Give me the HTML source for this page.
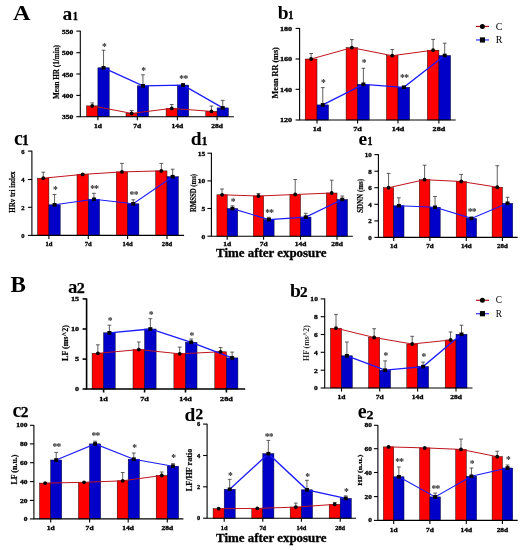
<!DOCTYPE html>
<html><head><meta charset="utf-8"><title>HRV figure</title>
<style>
html,body{margin:0;padding:0;background:#fff;}
svg{display:block;font-family:"Liberation Serif", "DejaVu Serif", serif;filter:blur(0.3px);}
</style></head><body>
<svg width="524" height="550" viewBox="0 0 524 550">
<rect width="524" height="550" fill="#fff"/>
<rect x="86.60" y="105.90" width="11.30" height="10.80" fill="#ff0000" stroke="#200" stroke-width="0.5"/>
<rect x="97.90" y="67.80" width="11.30" height="48.90" fill="#0000c8" stroke="#003" stroke-width="0.5"/>
<rect x="126.00" y="113.40" width="11.30" height="3.30" fill="#ff0000" stroke="#200" stroke-width="0.5"/>
<rect x="137.30" y="85.80" width="11.30" height="30.90" fill="#0000c8" stroke="#003" stroke-width="0.5"/>
<rect x="166.10" y="108.40" width="11.30" height="8.30" fill="#ff0000" stroke="#200" stroke-width="0.5"/>
<rect x="177.40" y="85.10" width="11.30" height="31.60" fill="#0000c8" stroke="#003" stroke-width="0.5"/>
<rect x="205.80" y="111.40" width="11.30" height="5.30" fill="#ff0000" stroke="#200" stroke-width="0.5"/>
<rect x="217.10" y="107.90" width="11.30" height="8.80" fill="#0000c8" stroke="#003" stroke-width="0.5"/>
<path d="M92.25 105.90V102.90M90.35 102.90H94.15" stroke="#383838" stroke-width="0.8" fill="none"/>
<path d="M103.55 67.80V50.20M101.65 50.20H105.45" stroke="#383838" stroke-width="0.8" fill="none"/>
<path d="M131.65 113.40V110.50M129.75 110.50H133.55" stroke="#383838" stroke-width="0.8" fill="none"/>
<path d="M142.95 85.80V74.80M141.05 74.80H144.85" stroke="#383838" stroke-width="0.8" fill="none"/>
<path d="M171.75 108.40V104.50M169.85 104.50H173.65" stroke="#383838" stroke-width="0.8" fill="none"/>
<path d="M183.05 85.10V83.60M181.15 83.60H184.95" stroke="#383838" stroke-width="0.8" fill="none"/>
<path d="M211.45 111.40V106.00M209.55 106.00H213.35" stroke="#383838" stroke-width="0.8" fill="none"/>
<path d="M222.75 107.90V100.40M220.85 100.40H224.65" stroke="#383838" stroke-width="0.8" fill="none"/>
<polyline points="92.25,105.90 131.65,113.40 171.75,108.40 211.45,111.40" fill="none" stroke="#c0141e" stroke-width="1.0"/>
<polyline points="103.55,67.80 142.95,85.80 183.05,85.10 222.75,107.90" fill="none" stroke="#1a1aff" stroke-width="1.3"/>
<circle cx="92.25" cy="105.90" r="1.9" fill="#000"/>
<rect x="101.55" y="66.00" width="4" height="3.6" fill="#000"/>
<circle cx="131.65" cy="113.40" r="1.9" fill="#000"/>
<rect x="140.95" y="84.00" width="4" height="3.6" fill="#000"/>
<circle cx="171.75" cy="108.40" r="1.9" fill="#000"/>
<rect x="181.05" y="83.30" width="4" height="3.6" fill="#000"/>
<circle cx="211.45" cy="111.40" r="1.9" fill="#000"/>
<rect x="220.75" y="106.10" width="4" height="3.6" fill="#000"/>
<path d="M80.30 30.70V116.70H233.90" stroke="#000" stroke-width="1.1" fill="none"/>
<path d="M76.30 31.10H80.30" stroke="#000" stroke-width="1.1"/>
<text transform="translate(73.30,33.81) scale(1.24,1)" font-size="6.10" text-anchor="end" font-weight="bold" fill="#000" stroke="#000" stroke-width="0.3">550</text>
<path d="M76.30 52.70H80.30" stroke="#000" stroke-width="1.1"/>
<text transform="translate(73.30,55.41) scale(1.24,1)" font-size="6.10" text-anchor="end" font-weight="bold" fill="#000" stroke="#000" stroke-width="0.3">500</text>
<path d="M76.30 74.00H80.30" stroke="#000" stroke-width="1.1"/>
<text transform="translate(73.30,76.71) scale(1.24,1)" font-size="6.10" text-anchor="end" font-weight="bold" fill="#000" stroke="#000" stroke-width="0.3">450</text>
<path d="M76.30 95.40H80.30" stroke="#000" stroke-width="1.1"/>
<text transform="translate(73.30,98.11) scale(1.24,1)" font-size="6.10" text-anchor="end" font-weight="bold" fill="#000" stroke="#000" stroke-width="0.3">400</text>
<path d="M76.30 116.70H80.30" stroke="#000" stroke-width="1.1"/>
<text transform="translate(73.30,119.41) scale(1.24,1)" font-size="6.10" text-anchor="end" font-weight="bold" fill="#000" stroke="#000" stroke-width="0.3">350</text>
<path d="M97.90 116.70V120.20" stroke="#000" stroke-width="1.1"/>
<text transform="translate(97.90,127.57) scale(1.24,1)" font-size="6.10" text-anchor="middle" font-weight="bold" fill="#000" stroke="#000" stroke-width="0.3">1d</text>
<text x="103.95" y="49.50" font-size="9.6" text-anchor="middle" font-weight="bold" fill="#2a2a2a" letter-spacing="-0.7">*</text>
<path d="M137.30 116.70V120.20" stroke="#000" stroke-width="1.1"/>
<text transform="translate(137.30,127.57) scale(1.24,1)" font-size="6.10" text-anchor="middle" font-weight="bold" fill="#000" stroke="#000" stroke-width="0.3">7d</text>
<text x="143.35" y="74.40" font-size="9.6" text-anchor="middle" font-weight="bold" fill="#2a2a2a" letter-spacing="-0.7">*</text>
<path d="M177.40 116.70V120.20" stroke="#000" stroke-width="1.1"/>
<text transform="translate(177.40,127.57) scale(1.24,1)" font-size="6.10" text-anchor="middle" font-weight="bold" fill="#000" stroke="#000" stroke-width="0.3">14d</text>
<text x="183.45" y="81.90" font-size="9.6" text-anchor="middle" font-weight="bold" fill="#2a2a2a" letter-spacing="-0.7">**</text>
<path d="M217.10 116.70V120.20" stroke="#000" stroke-width="1.1"/>
<text transform="translate(217.10,127.57) scale(1.24,1)" font-size="6.10" text-anchor="middle" font-weight="bold" fill="#000" stroke="#000" stroke-width="0.3">28d</text>
<text transform="translate(57.00,72.00) rotate(-90)" x="0" y="0" font-size="8.5" text-anchor="middle" font-weight="bold" textLength="54.0" lengthAdjust="spacingAndGlyphs" dy="2.29" fill="#000" stroke="#000" stroke-width="0.2">Mean HR (1/min)</text>
<rect x="305.20" y="59.00" width="11.80" height="61.00" fill="#ff0000" stroke="#200" stroke-width="0.5"/>
<rect x="317.00" y="104.90" width="11.50" height="15.10" fill="#0000c8" stroke="#003" stroke-width="0.5"/>
<rect x="346.10" y="47.70" width="11.50" height="72.30" fill="#ff0000" stroke="#200" stroke-width="0.5"/>
<rect x="357.60" y="84.30" width="11.60" height="35.70" fill="#0000c8" stroke="#003" stroke-width="0.5"/>
<rect x="386.50" y="55.70" width="11.50" height="64.30" fill="#ff0000" stroke="#200" stroke-width="0.5"/>
<rect x="398.00" y="87.30" width="11.60" height="32.70" fill="#0000c8" stroke="#003" stroke-width="0.5"/>
<rect x="427.40" y="50.20" width="11.50" height="69.80" fill="#ff0000" stroke="#200" stroke-width="0.5"/>
<rect x="438.90" y="55.50" width="11.60" height="64.50" fill="#0000c8" stroke="#003" stroke-width="0.5"/>
<path d="M311.10 59.00V53.50M309.20 53.50H313.00" stroke="#383838" stroke-width="0.8" fill="none"/>
<path d="M322.75 104.90V87.60M320.85 87.60H324.65" stroke="#383838" stroke-width="0.8" fill="none"/>
<path d="M351.85 47.70V39.60M349.95 39.60H353.75" stroke="#383838" stroke-width="0.8" fill="none"/>
<path d="M363.40 84.30V68.30M361.50 68.30H365.30" stroke="#383838" stroke-width="0.8" fill="none"/>
<path d="M392.25 55.70V49.50M390.35 49.50H394.15" stroke="#383838" stroke-width="0.8" fill="none"/>
<path d="M403.80 87.30V86.30M401.90 86.30H405.70" stroke="#383838" stroke-width="0.8" fill="none"/>
<path d="M433.15 50.20V39.40M431.25 39.40H435.05" stroke="#383838" stroke-width="0.8" fill="none"/>
<path d="M444.70 55.50V43.20M442.80 43.20H446.60" stroke="#383838" stroke-width="0.8" fill="none"/>
<polyline points="311.10,59.00 351.85,47.70 392.25,55.70 433.15,50.20" fill="none" stroke="#c0141e" stroke-width="1.0"/>
<polyline points="322.75,104.90 363.40,84.30 403.80,87.30 444.70,55.50" fill="none" stroke="#1a1aff" stroke-width="1.3"/>
<circle cx="311.10" cy="59.00" r="1.9" fill="#000"/>
<rect x="320.75" y="103.10" width="4" height="3.6" fill="#000"/>
<circle cx="351.85" cy="47.70" r="1.9" fill="#000"/>
<rect x="361.40" y="82.50" width="4" height="3.6" fill="#000"/>
<circle cx="392.25" cy="55.70" r="1.9" fill="#000"/>
<rect x="401.80" y="85.50" width="4" height="3.6" fill="#000"/>
<circle cx="433.15" cy="50.20" r="1.9" fill="#000"/>
<rect x="442.70" y="53.70" width="4" height="3.6" fill="#000"/>
<path d="M299.60 28.00V120.00H455.70" stroke="#000" stroke-width="1.1" fill="none"/>
<path d="M295.60 28.40H299.60" stroke="#000" stroke-width="1.1"/>
<text transform="translate(292.20,30.78) scale(1.36,1)" font-size="6.00" text-anchor="end" font-weight="bold" fill="#000" stroke="#000" stroke-width="0.3">180</text>
<path d="M295.60 59.00H299.60" stroke="#000" stroke-width="1.1"/>
<text transform="translate(292.20,61.38) scale(1.36,1)" font-size="6.00" text-anchor="end" font-weight="bold" fill="#000" stroke="#000" stroke-width="0.3">160</text>
<path d="M295.60 89.30H299.60" stroke="#000" stroke-width="1.1"/>
<text transform="translate(292.20,91.68) scale(1.36,1)" font-size="6.00" text-anchor="end" font-weight="bold" fill="#000" stroke="#000" stroke-width="0.3">140</text>
<path d="M295.60 120.00H299.60" stroke="#000" stroke-width="1.1"/>
<text transform="translate(292.20,122.38) scale(1.36,1)" font-size="6.00" text-anchor="end" font-weight="bold" fill="#000" stroke="#000" stroke-width="0.3">120</text>
<path d="M317.00 120.00V123.50" stroke="#000" stroke-width="1.1"/>
<text transform="translate(317.00,131.33) scale(1.36,1)" font-size="6.00" text-anchor="middle" font-weight="bold" fill="#000" stroke="#000" stroke-width="0.3">1d</text>
<text x="323.15" y="86.10" font-size="9.6" text-anchor="middle" font-weight="bold" fill="#2a2a2a" letter-spacing="-0.7">*</text>
<path d="M357.60 120.00V123.50" stroke="#000" stroke-width="1.1"/>
<text transform="translate(357.60,131.33) scale(1.36,1)" font-size="6.00" text-anchor="middle" font-weight="bold" fill="#000" stroke="#000" stroke-width="0.3">7d</text>
<text x="363.80" y="66.30" font-size="9.6" text-anchor="middle" font-weight="bold" fill="#2a2a2a" letter-spacing="-0.7">*</text>
<path d="M398.00 120.00V123.50" stroke="#000" stroke-width="1.1"/>
<text transform="translate(398.00,131.33) scale(1.36,1)" font-size="6.00" text-anchor="middle" font-weight="bold" fill="#000" stroke="#000" stroke-width="0.3">14d</text>
<text x="404.20" y="80.60" font-size="9.6" text-anchor="middle" font-weight="bold" fill="#2a2a2a" letter-spacing="-0.7">**</text>
<path d="M438.90 120.00V123.50" stroke="#000" stroke-width="1.1"/>
<text transform="translate(438.90,131.33) scale(1.36,1)" font-size="6.00" text-anchor="middle" font-weight="bold" fill="#000" stroke="#000" stroke-width="0.3">28d</text>
<text transform="translate(276.30,72.80) rotate(-90)" x="0" y="0" font-size="7.8" text-anchor="middle" font-weight="bold" textLength="51.2" lengthAdjust="spacingAndGlyphs" dy="2.11" fill="#000" stroke="#000" stroke-width="0.2">Mean RR  (ms)</text>
<rect x="37.60" y="178.20" width="11.30" height="57.20" fill="#ff0000" stroke="#200" stroke-width="0.5"/>
<rect x="48.90" y="204.80" width="11.30" height="30.60" fill="#0000c8" stroke="#003" stroke-width="0.5"/>
<rect x="77.00" y="174.40" width="11.30" height="61.00" fill="#ff0000" stroke="#200" stroke-width="0.5"/>
<rect x="88.30" y="199.30" width="11.30" height="36.10" fill="#0000c8" stroke="#003" stroke-width="0.5"/>
<rect x="116.30" y="171.90" width="11.30" height="63.50" fill="#ff0000" stroke="#200" stroke-width="0.5"/>
<rect x="127.60" y="203.80" width="11.30" height="31.60" fill="#0000c8" stroke="#003" stroke-width="0.5"/>
<rect x="155.70" y="170.90" width="11.30" height="64.50" fill="#ff0000" stroke="#200" stroke-width="0.5"/>
<rect x="167.00" y="176.70" width="11.30" height="58.70" fill="#0000c8" stroke="#003" stroke-width="0.5"/>
<path d="M43.25 178.20V172.20M41.35 172.20H45.15" stroke="#383838" stroke-width="0.8" fill="none"/>
<path d="M54.55 204.80V194.50M52.65 194.50H56.45" stroke="#383838" stroke-width="0.8" fill="none"/>
<path d="M82.65 174.40V173.60M80.75 173.60H84.55" stroke="#383838" stroke-width="0.8" fill="none"/>
<path d="M93.95 199.30V193.30M92.05 193.30H95.85" stroke="#383838" stroke-width="0.8" fill="none"/>
<path d="M121.95 171.90V163.40M120.05 163.40H123.85" stroke="#383838" stroke-width="0.8" fill="none"/>
<path d="M133.25 203.80V199.80M131.35 199.80H135.15" stroke="#383838" stroke-width="0.8" fill="none"/>
<path d="M161.35 170.90V163.40M159.45 163.40H163.25" stroke="#383838" stroke-width="0.8" fill="none"/>
<path d="M172.65 176.70V169.20M170.75 169.20H174.55" stroke="#383838" stroke-width="0.8" fill="none"/>
<polyline points="43.25,178.20 82.65,174.40 121.95,171.90 161.35,170.90" fill="none" stroke="#c0141e" stroke-width="1.0"/>
<polyline points="54.55,204.80 93.95,199.30 133.25,203.80 172.65,176.70" fill="none" stroke="#1a1aff" stroke-width="1.1"/>
<circle cx="43.25" cy="178.20" r="1.9" fill="#000"/>
<rect x="52.55" y="203.00" width="4" height="3.6" fill="#000"/>
<circle cx="82.65" cy="174.40" r="1.9" fill="#000"/>
<rect x="91.95" y="197.50" width="4" height="3.6" fill="#000"/>
<circle cx="121.95" cy="171.90" r="1.9" fill="#000"/>
<rect x="131.25" y="202.00" width="4" height="3.6" fill="#000"/>
<circle cx="161.35" cy="170.90" r="1.9" fill="#000"/>
<rect x="170.65" y="174.90" width="4" height="3.6" fill="#000"/>
<path d="M31.90 150.70V235.40H184.10" stroke="#000" stroke-width="1.1" fill="none"/>
<path d="M27.90 151.10H31.90" stroke="#000" stroke-width="1.1"/>
<text transform="translate(24.50,153.55) scale(1.02,1)" font-size="6.51" text-anchor="end" font-weight="bold" fill="#000" stroke="#000" stroke-width="0.3">6</text>
<path d="M27.90 179.50H31.90" stroke="#000" stroke-width="1.1"/>
<text transform="translate(24.50,181.95) scale(1.02,1)" font-size="6.51" text-anchor="end" font-weight="bold" fill="#000" stroke="#000" stroke-width="0.3">4</text>
<path d="M27.90 207.30H31.90" stroke="#000" stroke-width="1.1"/>
<text transform="translate(24.50,209.75) scale(1.02,1)" font-size="6.51" text-anchor="end" font-weight="bold" fill="#000" stroke="#000" stroke-width="0.3">2</text>
<path d="M27.90 235.40H31.90" stroke="#000" stroke-width="1.1"/>
<text transform="translate(24.50,237.85) scale(1.02,1)" font-size="6.51" text-anchor="end" font-weight="bold" fill="#000" stroke="#000" stroke-width="0.3">0</text>
<path d="M48.90 235.40V238.90" stroke="#000" stroke-width="1.1"/>
<text transform="translate(48.90,246.30) scale(1.02,1)" font-size="6.51" text-anchor="middle" font-weight="bold" fill="#000" stroke="#000" stroke-width="0.3">1d</text>
<text x="54.95" y="193.10" font-size="9.6" text-anchor="middle" font-weight="bold" fill="#2a2a2a" letter-spacing="-0.7">*</text>
<path d="M88.30 235.40V238.90" stroke="#000" stroke-width="1.1"/>
<text transform="translate(88.30,246.30) scale(1.02,1)" font-size="6.51" text-anchor="middle" font-weight="bold" fill="#000" stroke="#000" stroke-width="0.3">7d</text>
<text x="94.35" y="191.80" font-size="9.6" text-anchor="middle" font-weight="bold" fill="#2a2a2a" letter-spacing="-0.7">**</text>
<path d="M127.60 235.40V238.90" stroke="#000" stroke-width="1.1"/>
<text transform="translate(127.60,246.30) scale(1.02,1)" font-size="6.51" text-anchor="middle" font-weight="bold" fill="#000" stroke="#000" stroke-width="0.3">14d</text>
<text x="133.65" y="197.60" font-size="9.6" text-anchor="middle" font-weight="bold" fill="#2a2a2a" letter-spacing="-0.7">**</text>
<path d="M167.00 235.40V238.90" stroke="#000" stroke-width="1.1"/>
<text transform="translate(167.00,246.30) scale(1.02,1)" font-size="6.51" text-anchor="middle" font-weight="bold" fill="#000" stroke="#000" stroke-width="0.3">28d</text>
<text transform="translate(12.50,192.10) rotate(-90)" x="0" y="0" font-size="8.8" text-anchor="middle" font-weight="bold" textLength="41.4" lengthAdjust="spacingAndGlyphs" dy="2.38" fill="#000" stroke="#000" stroke-width="0.2">HRv tri index</text>
<rect x="216.90" y="194.80" width="10.30" height="41.40" fill="#ff0000" stroke="#200" stroke-width="0.5"/>
<rect x="227.20" y="208.60" width="10.50" height="27.60" fill="#0000c8" stroke="#003" stroke-width="0.5"/>
<rect x="253.30" y="196.00" width="10.30" height="40.20" fill="#ff0000" stroke="#200" stroke-width="0.5"/>
<rect x="263.60" y="219.60" width="10.50" height="16.60" fill="#0000c8" stroke="#003" stroke-width="0.5"/>
<rect x="289.90" y="194.50" width="10.60" height="41.70" fill="#ff0000" stroke="#200" stroke-width="0.5"/>
<rect x="300.50" y="217.10" width="10.50" height="19.10" fill="#0000c8" stroke="#003" stroke-width="0.5"/>
<rect x="326.40" y="193.00" width="10.60" height="43.20" fill="#ff0000" stroke="#200" stroke-width="0.5"/>
<rect x="337.00" y="199.50" width="10.50" height="36.70" fill="#0000c8" stroke="#003" stroke-width="0.5"/>
<path d="M222.05 194.80V189.00M220.15 189.00H223.95" stroke="#383838" stroke-width="0.8" fill="none"/>
<path d="M232.45 208.60V205.80M230.55 205.80H234.35" stroke="#383838" stroke-width="0.8" fill="none"/>
<path d="M258.45 196.00V193.50M256.55 193.50H260.35" stroke="#383838" stroke-width="0.8" fill="none"/>
<path d="M268.85 219.60V217.30M266.95 217.30H270.75" stroke="#383838" stroke-width="0.8" fill="none"/>
<path d="M295.20 194.50V179.50M293.30 179.50H297.10" stroke="#383838" stroke-width="0.8" fill="none"/>
<path d="M305.75 217.10V213.30M303.85 213.30H307.65" stroke="#383838" stroke-width="0.8" fill="none"/>
<path d="M331.70 193.00V180.20M329.80 180.20H333.60" stroke="#383838" stroke-width="0.8" fill="none"/>
<path d="M342.25 199.50V196.00M340.35 196.00H344.15" stroke="#383838" stroke-width="0.8" fill="none"/>
<polyline points="222.05,194.80 258.45,196.00 295.20,194.50 331.70,193.00" fill="none" stroke="#c0141e" stroke-width="1.0"/>
<polyline points="232.45,208.60 268.85,219.60 305.75,217.10 342.25,199.50" fill="none" stroke="#1a1aff" stroke-width="1.1"/>
<circle cx="222.05" cy="194.80" r="1.9" fill="#000"/>
<rect x="230.45" y="206.80" width="4" height="3.6" fill="#000"/>
<circle cx="258.45" cy="196.00" r="1.9" fill="#000"/>
<rect x="266.85" y="217.80" width="4" height="3.6" fill="#000"/>
<circle cx="295.20" cy="194.50" r="1.9" fill="#000"/>
<rect x="303.75" y="215.30" width="4" height="3.6" fill="#000"/>
<circle cx="331.70" cy="193.00" r="1.9" fill="#000"/>
<rect x="340.25" y="197.70" width="4" height="3.6" fill="#000"/>
<path d="M211.40 152.80V236.20H352.80" stroke="#000" stroke-width="1.1" fill="none"/>
<path d="M207.40 153.20H211.40" stroke="#000" stroke-width="1.1"/>
<text transform="translate(205.20,155.68) scale(1.14,1)" font-size="6.60" text-anchor="end" font-weight="bold" fill="#000" stroke="#000" stroke-width="0.3">15</text>
<path d="M207.40 180.90H211.40" stroke="#000" stroke-width="1.1"/>
<text transform="translate(205.20,183.38) scale(1.14,1)" font-size="6.60" text-anchor="end" font-weight="bold" fill="#000" stroke="#000" stroke-width="0.3">10</text>
<path d="M207.40 208.50H211.40" stroke="#000" stroke-width="1.1"/>
<text transform="translate(205.20,210.98) scale(1.14,1)" font-size="6.60" text-anchor="end" font-weight="bold" fill="#000" stroke="#000" stroke-width="0.3">5</text>
<path d="M207.40 236.20H211.40" stroke="#000" stroke-width="1.1"/>
<text transform="translate(205.20,238.68) scale(1.14,1)" font-size="6.60" text-anchor="end" font-weight="bold" fill="#000" stroke="#000" stroke-width="0.3">0</text>
<path d="M227.20 236.20V239.70" stroke="#000" stroke-width="1.1"/>
<text transform="translate(227.20,246.33) scale(1.14,1)" font-size="6.60" text-anchor="middle" font-weight="bold" fill="#000" stroke="#000" stroke-width="0.3">1d</text>
<text x="232.85" y="204.90" font-size="9.6" text-anchor="middle" font-weight="bold" fill="#2a2a2a" letter-spacing="-0.7">*</text>
<path d="M263.60 236.20V239.70" stroke="#000" stroke-width="1.1"/>
<text transform="translate(263.60,246.33) scale(1.14,1)" font-size="6.60" text-anchor="middle" font-weight="bold" fill="#000" stroke="#000" stroke-width="0.3">7d</text>
<text x="269.25" y="216.20" font-size="9.6" text-anchor="middle" font-weight="bold" fill="#2a2a2a" letter-spacing="-0.7">**</text>
<path d="M300.50 236.20V239.70" stroke="#000" stroke-width="1.1"/>
<text transform="translate(300.50,246.33) scale(1.14,1)" font-size="6.60" text-anchor="middle" font-weight="bold" fill="#000" stroke="#000" stroke-width="0.3">14d</text>
<path d="M337.00 236.20V239.70" stroke="#000" stroke-width="1.1"/>
<text transform="translate(337.00,246.33) scale(1.14,1)" font-size="6.60" text-anchor="middle" font-weight="bold" fill="#000" stroke="#000" stroke-width="0.3">28d</text>
<text transform="translate(193.80,193.00) rotate(-90)" x="0" y="0" font-size="8.0" text-anchor="middle" font-weight="bold" textLength="38.2" lengthAdjust="spacingAndGlyphs" dy="2.16" fill="#000" stroke="#000" stroke-width="0.2">RMSSD (ms)</text>
<rect x="383.40" y="187.70" width="10.30" height="49.70" fill="#ff0000" stroke="#200" stroke-width="0.5"/>
<rect x="393.70" y="205.80" width="10.30" height="31.60" fill="#0000c8" stroke="#003" stroke-width="0.5"/>
<rect x="419.30" y="179.70" width="10.60" height="57.70" fill="#ff0000" stroke="#200" stroke-width="0.5"/>
<rect x="429.90" y="207.30" width="10.30" height="30.10" fill="#0000c8" stroke="#003" stroke-width="0.5"/>
<rect x="456.20" y="181.50" width="10.10" height="55.90" fill="#ff0000" stroke="#200" stroke-width="0.5"/>
<rect x="466.30" y="218.40" width="10.30" height="19.00" fill="#0000c8" stroke="#003" stroke-width="0.5"/>
<rect x="492.10" y="187.20" width="10.30" height="50.20" fill="#ff0000" stroke="#200" stroke-width="0.5"/>
<rect x="502.40" y="203.30" width="10.30" height="34.10" fill="#0000c8" stroke="#003" stroke-width="0.5"/>
<path d="M388.55 187.70V173.40M386.65 173.40H390.45" stroke="#383838" stroke-width="0.8" fill="none"/>
<path d="M398.85 205.80V197.80M396.95 197.80H400.75" stroke="#383838" stroke-width="0.8" fill="none"/>
<path d="M424.60 179.70V165.20M422.70 165.20H426.50" stroke="#383838" stroke-width="0.8" fill="none"/>
<path d="M435.05 207.30V196.50M433.15 196.50H436.95" stroke="#383838" stroke-width="0.8" fill="none"/>
<path d="M461.25 181.50V174.40M459.35 174.40H463.15" stroke="#383838" stroke-width="0.8" fill="none"/>
<path d="M471.45 218.40V217.40M469.55 217.40H473.35" stroke="#383838" stroke-width="0.8" fill="none"/>
<path d="M497.25 187.20V165.70M495.35 165.70H499.15" stroke="#383838" stroke-width="0.8" fill="none"/>
<path d="M507.55 203.30V197.30M505.65 197.30H509.45" stroke="#383838" stroke-width="0.8" fill="none"/>
<polyline points="388.55,187.70 424.60,179.70 461.25,181.50 497.25,187.20" fill="none" stroke="#c0141e" stroke-width="1.0"/>
<polyline points="398.85,205.80 435.05,207.30 471.45,218.40 507.55,203.30" fill="none" stroke="#1a1aff" stroke-width="1.1"/>
<circle cx="388.55" cy="187.70" r="1.9" fill="#000"/>
<rect x="396.85" y="204.00" width="4" height="3.6" fill="#000"/>
<circle cx="424.60" cy="179.70" r="1.9" fill="#000"/>
<rect x="433.05" y="205.50" width="4" height="3.6" fill="#000"/>
<circle cx="461.25" cy="181.50" r="1.9" fill="#000"/>
<rect x="469.45" y="216.60" width="4" height="3.6" fill="#000"/>
<circle cx="497.25" cy="187.20" r="1.9" fill="#000"/>
<rect x="505.55" y="201.50" width="4" height="3.6" fill="#000"/>
<path d="M378.40 154.20V237.40H517.70" stroke="#000" stroke-width="1.1" fill="none"/>
<path d="M374.40 154.60H378.40" stroke="#000" stroke-width="1.1"/>
<text transform="translate(371.80,156.96) scale(1.12,1)" font-size="6.23" text-anchor="end" font-weight="bold" fill="#000" stroke="#000" stroke-width="0.3">10</text>
<path d="M374.40 171.20H378.40" stroke="#000" stroke-width="1.1"/>
<text transform="translate(371.80,173.56) scale(1.12,1)" font-size="6.23" text-anchor="end" font-weight="bold" fill="#000" stroke="#000" stroke-width="0.3">8</text>
<path d="M374.40 187.70H378.40" stroke="#000" stroke-width="1.1"/>
<text transform="translate(371.80,190.06) scale(1.12,1)" font-size="6.23" text-anchor="end" font-weight="bold" fill="#000" stroke="#000" stroke-width="0.3">6</text>
<path d="M374.40 204.30H378.40" stroke="#000" stroke-width="1.1"/>
<text transform="translate(371.80,206.66) scale(1.12,1)" font-size="6.23" text-anchor="end" font-weight="bold" fill="#000" stroke="#000" stroke-width="0.3">4</text>
<path d="M374.40 220.90H378.40" stroke="#000" stroke-width="1.1"/>
<text transform="translate(371.80,223.26) scale(1.12,1)" font-size="6.23" text-anchor="end" font-weight="bold" fill="#000" stroke="#000" stroke-width="0.3">2</text>
<path d="M374.40 237.40H378.40" stroke="#000" stroke-width="1.1"/>
<text transform="translate(371.80,239.76) scale(1.12,1)" font-size="6.23" text-anchor="end" font-weight="bold" fill="#000" stroke="#000" stroke-width="0.3">0</text>
<path d="M393.70 237.40V240.90" stroke="#000" stroke-width="1.1"/>
<text transform="translate(393.70,248.01) scale(1.12,1)" font-size="6.23" text-anchor="middle" font-weight="bold" fill="#000" stroke="#000" stroke-width="0.3">1d</text>
<path d="M429.90 237.40V240.90" stroke="#000" stroke-width="1.1"/>
<text transform="translate(429.90,248.01) scale(1.12,1)" font-size="6.23" text-anchor="middle" font-weight="bold" fill="#000" stroke="#000" stroke-width="0.3">7d</text>
<path d="M466.30 237.40V240.90" stroke="#000" stroke-width="1.1"/>
<text transform="translate(466.30,248.01) scale(1.12,1)" font-size="6.23" text-anchor="middle" font-weight="bold" fill="#000" stroke="#000" stroke-width="0.3">14d</text>
<text x="471.85" y="215.30" font-size="9.6" text-anchor="middle" font-weight="bold" fill="#2a2a2a" letter-spacing="-0.7">**</text>
<path d="M502.40 237.40V240.90" stroke="#000" stroke-width="1.1"/>
<text transform="translate(502.40,248.01) scale(1.12,1)" font-size="6.23" text-anchor="middle" font-weight="bold" fill="#000" stroke="#000" stroke-width="0.3">28d</text>
<text transform="translate(361.00,195.90) rotate(-90)" x="0" y="0" font-size="8.0" text-anchor="middle" font-weight="bold" textLength="33.8" lengthAdjust="spacingAndGlyphs" dy="2.16" fill="#000" stroke="#000" stroke-width="0.2">SDNN (ms)</text>
<rect x="92.10" y="353.30" width="11.50" height="35.70" fill="#ff0000" stroke="#200" stroke-width="0.5"/>
<rect x="103.60" y="332.80" width="11.60" height="56.20" fill="#0000c8" stroke="#003" stroke-width="0.5"/>
<rect x="133.00" y="349.60" width="11.60" height="39.40" fill="#ff0000" stroke="#200" stroke-width="0.5"/>
<rect x="144.60" y="329.00" width="11.50" height="60.00" fill="#0000c8" stroke="#003" stroke-width="0.5"/>
<rect x="173.90" y="353.80" width="11.60" height="35.20" fill="#ff0000" stroke="#200" stroke-width="0.5"/>
<rect x="185.50" y="342.30" width="11.50" height="46.70" fill="#0000c8" stroke="#003" stroke-width="0.5"/>
<rect x="214.80" y="351.80" width="11.60" height="37.20" fill="#ff0000" stroke="#200" stroke-width="0.5"/>
<rect x="226.40" y="357.90" width="11.50" height="31.10" fill="#0000c8" stroke="#003" stroke-width="0.5"/>
<path d="M97.85 353.30V344.80M95.95 344.80H99.75" stroke="#383838" stroke-width="0.8" fill="none"/>
<path d="M109.40 332.80V325.20M107.50 325.20H111.30" stroke="#383838" stroke-width="0.8" fill="none"/>
<path d="M138.80 349.60V342.00M136.90 342.00H140.70" stroke="#383838" stroke-width="0.8" fill="none"/>
<path d="M150.35 329.00V318.70M148.45 318.70H152.25" stroke="#383838" stroke-width="0.8" fill="none"/>
<path d="M179.70 353.80V347.10M177.80 347.10H181.60" stroke="#383838" stroke-width="0.8" fill="none"/>
<path d="M191.25 342.30V339.00M189.35 339.00H193.15" stroke="#383838" stroke-width="0.8" fill="none"/>
<path d="M220.60 351.80V347.60M218.70 347.60H222.50" stroke="#383838" stroke-width="0.8" fill="none"/>
<path d="M232.15 357.90V352.10M230.25 352.10H234.05" stroke="#383838" stroke-width="0.8" fill="none"/>
<polyline points="97.85,353.30 138.80,349.60 179.70,353.80 220.60,351.80" fill="none" stroke="#c0141e" stroke-width="1.0"/>
<polyline points="109.40,332.80 150.35,329.00 191.25,342.30 232.15,357.90" fill="none" stroke="#1a1aff" stroke-width="1.3"/>
<circle cx="97.85" cy="353.30" r="1.9" fill="#000"/>
<rect x="107.40" y="331.00" width="4" height="3.6" fill="#000"/>
<circle cx="138.80" cy="349.60" r="1.9" fill="#000"/>
<rect x="148.35" y="327.20" width="4" height="3.6" fill="#000"/>
<circle cx="179.70" cy="353.80" r="1.9" fill="#000"/>
<rect x="189.25" y="340.50" width="4" height="3.6" fill="#000"/>
<circle cx="220.60" cy="351.80" r="1.9" fill="#000"/>
<rect x="230.15" y="356.10" width="4" height="3.6" fill="#000"/>
<path d="M86.60 298.50V389.00H245.20" stroke="#000" stroke-width="1.6" fill="none"/>
<path d="M82.60 298.90H86.60" stroke="#000" stroke-width="1.6"/>
<text transform="translate(79.20,301.18) scale(1.3,1)" font-size="6.30" text-anchor="end" font-weight="bold" fill="#000" stroke="#000" stroke-width="0.3">15</text>
<path d="M82.60 329.00H86.60" stroke="#000" stroke-width="1.6"/>
<text transform="translate(79.20,331.28) scale(1.3,1)" font-size="6.30" text-anchor="end" font-weight="bold" fill="#000" stroke="#000" stroke-width="0.3">10</text>
<path d="M82.60 359.10H86.60" stroke="#000" stroke-width="1.6"/>
<text transform="translate(79.20,361.38) scale(1.3,1)" font-size="6.30" text-anchor="end" font-weight="bold" fill="#000" stroke="#000" stroke-width="0.3">5</text>
<path d="M82.60 389.00H86.60" stroke="#000" stroke-width="1.6"/>
<text transform="translate(79.20,391.28) scale(1.3,1)" font-size="6.30" text-anchor="end" font-weight="bold" fill="#000" stroke="#000" stroke-width="0.3">0</text>
<path d="M103.60 389.00V392.50" stroke="#000" stroke-width="1.6"/>
<text transform="translate(103.60,401.03) scale(1.3,1)" font-size="6.30" text-anchor="middle" font-weight="bold" fill="#000" stroke="#000" stroke-width="0.3">1d</text>
<text x="109.80" y="324.10" font-size="9.6" text-anchor="middle" font-weight="bold" fill="#2a2a2a" letter-spacing="-0.7">*</text>
<path d="M144.60 389.00V392.50" stroke="#000" stroke-width="1.6"/>
<text transform="translate(144.60,401.03) scale(1.3,1)" font-size="6.30" text-anchor="middle" font-weight="bold" fill="#000" stroke="#000" stroke-width="0.3">7d</text>
<text x="150.75" y="318.00" font-size="9.6" text-anchor="middle" font-weight="bold" fill="#2a2a2a" letter-spacing="-0.7">*</text>
<path d="M185.50 389.00V392.50" stroke="#000" stroke-width="1.6"/>
<text transform="translate(185.50,401.03) scale(1.3,1)" font-size="6.30" text-anchor="middle" font-weight="bold" fill="#000" stroke="#000" stroke-width="0.3">14d</text>
<text x="191.65" y="338.60" font-size="9.6" text-anchor="middle" font-weight="bold" fill="#2a2a2a" letter-spacing="-0.7">*</text>
<path d="M226.40 389.00V392.50" stroke="#000" stroke-width="1.6"/>
<text transform="translate(226.40,401.03) scale(1.3,1)" font-size="6.30" text-anchor="middle" font-weight="bold" fill="#000" stroke="#000" stroke-width="0.3">28d</text>
<text transform="translate(66.00,343.05) rotate(-90)" x="0" y="0" font-size="8.7" text-anchor="middle" font-weight="bold" textLength="35.7" lengthAdjust="spacingAndGlyphs" dy="2.35" fill="#000" stroke="#000" stroke-width="0.2">LF (ms^2)</text>
<rect x="330.50" y="328.20" width="11.00" height="59.80" fill="#ff0000" stroke="#200" stroke-width="0.5"/>
<rect x="341.50" y="355.80" width="10.80" height="32.20" fill="#0000c8" stroke="#003" stroke-width="0.5"/>
<rect x="368.60" y="337.50" width="11.10" height="50.50" fill="#ff0000" stroke="#200" stroke-width="0.5"/>
<rect x="379.70" y="370.20" width="10.80" height="17.80" fill="#0000c8" stroke="#003" stroke-width="0.5"/>
<rect x="406.80" y="344.00" width="10.80" height="44.00" fill="#ff0000" stroke="#200" stroke-width="0.5"/>
<rect x="417.60" y="366.60" width="11.00" height="21.40" fill="#0000c8" stroke="#003" stroke-width="0.5"/>
<rect x="445.20" y="340.00" width="10.80" height="48.00" fill="#ff0000" stroke="#200" stroke-width="0.5"/>
<rect x="456.00" y="334.30" width="11.00" height="53.70" fill="#0000c8" stroke="#003" stroke-width="0.5"/>
<path d="M336.00 328.20V314.40M334.10 314.40H337.90" stroke="#383838" stroke-width="0.8" fill="none"/>
<path d="M346.90 355.80V342.00M345.00 342.00H348.80" stroke="#383838" stroke-width="0.8" fill="none"/>
<path d="M374.15 337.50V328.70M372.25 328.70H376.05" stroke="#383838" stroke-width="0.8" fill="none"/>
<path d="M385.10 370.20V360.90M383.20 360.90H387.00" stroke="#383838" stroke-width="0.8" fill="none"/>
<path d="M412.20 344.00V336.30M410.30 336.30H414.10" stroke="#383838" stroke-width="0.8" fill="none"/>
<path d="M423.10 366.60V362.10M421.20 362.10H425.00" stroke="#383838" stroke-width="0.8" fill="none"/>
<path d="M450.60 340.00V332.00M448.70 332.00H452.50" stroke="#383838" stroke-width="0.8" fill="none"/>
<path d="M461.50 334.30V325.20M459.60 325.20H463.40" stroke="#383838" stroke-width="0.8" fill="none"/>
<polyline points="336.00,328.20 374.15,337.50 412.20,344.00 450.60,340.00" fill="none" stroke="#c0141e" stroke-width="1.0"/>
<polyline points="346.90,355.80 385.10,370.20 423.10,366.60 461.50,334.30" fill="none" stroke="#1a1aff" stroke-width="1.3"/>
<circle cx="336.00" cy="328.20" r="1.9" fill="#000"/>
<rect x="344.90" y="354.00" width="4" height="3.6" fill="#000"/>
<circle cx="374.15" cy="337.50" r="1.9" fill="#000"/>
<rect x="383.10" y="368.40" width="4" height="3.6" fill="#000"/>
<circle cx="412.20" cy="344.00" r="1.9" fill="#000"/>
<rect x="421.10" y="364.80" width="4" height="3.6" fill="#000"/>
<circle cx="450.60" cy="340.00" r="1.9" fill="#000"/>
<rect x="459.50" y="332.50" width="4" height="3.6" fill="#000"/>
<path d="M324.70 298.50V388.00H472.50" stroke="#000" stroke-width="1.1" fill="none"/>
<path d="M320.70 298.90H324.70" stroke="#000" stroke-width="1.1"/>
<text transform="translate(317.90,301.35) scale(1.16,1)" font-size="6.51" text-anchor="end" font-weight="bold" fill="#000" stroke="#000" stroke-width="0.3">10</text>
<path d="M320.70 316.70H324.70" stroke="#000" stroke-width="1.1"/>
<text transform="translate(317.90,319.15) scale(1.16,1)" font-size="6.51" text-anchor="end" font-weight="bold" fill="#000" stroke="#000" stroke-width="0.3">8</text>
<path d="M320.70 334.50H324.70" stroke="#000" stroke-width="1.1"/>
<text transform="translate(317.90,336.95) scale(1.16,1)" font-size="6.51" text-anchor="end" font-weight="bold" fill="#000" stroke="#000" stroke-width="0.3">6</text>
<path d="M320.70 352.30H324.70" stroke="#000" stroke-width="1.1"/>
<text transform="translate(317.90,354.75) scale(1.16,1)" font-size="6.51" text-anchor="end" font-weight="bold" fill="#000" stroke="#000" stroke-width="0.3">4</text>
<path d="M320.70 370.20H324.70" stroke="#000" stroke-width="1.1"/>
<text transform="translate(317.90,372.65) scale(1.16,1)" font-size="6.51" text-anchor="end" font-weight="bold" fill="#000" stroke="#000" stroke-width="0.3">2</text>
<path d="M320.70 388.00H324.70" stroke="#000" stroke-width="1.1"/>
<text transform="translate(317.90,390.45) scale(1.16,1)" font-size="6.51" text-anchor="end" font-weight="bold" fill="#000" stroke="#000" stroke-width="0.3">0</text>
<path d="M341.50 388.00V391.50" stroke="#000" stroke-width="1.1"/>
<text transform="translate(341.50,399.10) scale(1.16,1)" font-size="6.51" text-anchor="middle" font-weight="bold" fill="#000" stroke="#000" stroke-width="0.3">1d</text>
<path d="M379.70 388.00V391.50" stroke="#000" stroke-width="1.1"/>
<text transform="translate(379.70,399.10) scale(1.16,1)" font-size="6.51" text-anchor="middle" font-weight="bold" fill="#000" stroke="#000" stroke-width="0.3">7d</text>
<text x="385.50" y="359.40" font-size="9.6" text-anchor="middle" font-weight="bold" fill="#2a2a2a" letter-spacing="-0.7">*</text>
<path d="M417.60 388.00V391.50" stroke="#000" stroke-width="1.1"/>
<text transform="translate(417.60,399.10) scale(1.16,1)" font-size="6.51" text-anchor="middle" font-weight="bold" fill="#000" stroke="#000" stroke-width="0.3">14d</text>
<text x="423.50" y="360.40" font-size="9.6" text-anchor="middle" font-weight="bold" fill="#2a2a2a" letter-spacing="-0.7">*</text>
<path d="M456.00 388.00V391.50" stroke="#000" stroke-width="1.1"/>
<text transform="translate(456.00,399.10) scale(1.16,1)" font-size="6.51" text-anchor="middle" font-weight="bold" fill="#000" stroke="#000" stroke-width="0.3">28d</text>
<text transform="translate(307.20,343.05) rotate(-90)" x="0" y="0" font-size="7.7" text-anchor="middle" font-weight="bold" textLength="35.7" lengthAdjust="spacingAndGlyphs" dy="2.08" fill="#333" stroke="#000" stroke-width="0">HF (ms^2)</text>
<rect x="39.60" y="483.10" width="11.10" height="35.80" fill="#ff0000" stroke="#200" stroke-width="0.5"/>
<rect x="50.70" y="460.00" width="11.00" height="58.90" fill="#0000c8" stroke="#003" stroke-width="0.5"/>
<rect x="78.50" y="482.30" width="11.10" height="36.60" fill="#ff0000" stroke="#200" stroke-width="0.5"/>
<rect x="89.60" y="443.90" width="11.00" height="75.00" fill="#0000c8" stroke="#003" stroke-width="0.5"/>
<rect x="117.20" y="480.80" width="11.00" height="38.10" fill="#ff0000" stroke="#200" stroke-width="0.5"/>
<rect x="128.20" y="459.20" width="11.20" height="59.70" fill="#0000c8" stroke="#003" stroke-width="0.5"/>
<rect x="156.20" y="475.50" width="11.10" height="43.40" fill="#ff0000" stroke="#200" stroke-width="0.5"/>
<rect x="167.30" y="466.20" width="11.30" height="52.70" fill="#0000c8" stroke="#003" stroke-width="0.5"/>
<path d="M56.20 460.00V452.40M54.30 452.40H58.10" stroke="#383838" stroke-width="0.8" fill="none"/>
<path d="M95.10 443.90V441.20M93.20 441.20H97.00" stroke="#383838" stroke-width="0.8" fill="none"/>
<path d="M122.70 480.80V472.50M120.80 472.50H124.60" stroke="#383838" stroke-width="0.8" fill="none"/>
<path d="M133.80 459.20V453.00M131.90 453.00H135.70" stroke="#383838" stroke-width="0.8" fill="none"/>
<path d="M161.75 475.50V472.00M159.85 472.00H163.65" stroke="#383838" stroke-width="0.8" fill="none"/>
<path d="M172.95 466.20V463.70M171.05 463.70H174.85" stroke="#383838" stroke-width="0.8" fill="none"/>
<polyline points="45.15,483.10 84.05,482.30 122.70,480.80 161.75,475.50" fill="none" stroke="#c0141e" stroke-width="1.0"/>
<polyline points="56.20,460.00 95.10,443.90 133.80,459.20 172.95,466.20" fill="none" stroke="#1a1aff" stroke-width="1.1"/>
<circle cx="45.15" cy="483.10" r="1.9" fill="#000"/>
<rect x="54.20" y="458.20" width="4" height="3.6" fill="#000"/>
<circle cx="84.05" cy="482.30" r="1.9" fill="#000"/>
<rect x="93.10" y="442.10" width="4" height="3.6" fill="#000"/>
<circle cx="122.70" cy="480.80" r="1.9" fill="#000"/>
<rect x="131.80" y="457.40" width="4" height="3.6" fill="#000"/>
<circle cx="161.75" cy="475.50" r="1.9" fill="#000"/>
<rect x="170.95" y="464.40" width="4" height="3.6" fill="#000"/>
<path d="M33.90 424.90V518.90H183.40" stroke="#000" stroke-width="1.1" fill="none"/>
<path d="M29.90 425.30H33.90" stroke="#000" stroke-width="1.1"/>
<text transform="translate(27.50,427.45) scale(1.28,1)" font-size="5.90" text-anchor="end" font-weight="bold" fill="#000" stroke="#000" stroke-width="0.3">100</text>
<path d="M29.90 443.90H33.90" stroke="#000" stroke-width="1.1"/>
<text transform="translate(27.50,446.05) scale(1.28,1)" font-size="5.90" text-anchor="end" font-weight="bold" fill="#000" stroke="#000" stroke-width="0.3">80</text>
<path d="M29.90 462.70H33.90" stroke="#000" stroke-width="1.1"/>
<text transform="translate(27.50,464.85) scale(1.28,1)" font-size="5.90" text-anchor="end" font-weight="bold" fill="#000" stroke="#000" stroke-width="0.3">60</text>
<path d="M29.90 481.60H33.90" stroke="#000" stroke-width="1.1"/>
<text transform="translate(27.50,483.75) scale(1.28,1)" font-size="5.90" text-anchor="end" font-weight="bold" fill="#000" stroke="#000" stroke-width="0.3">40</text>
<path d="M29.90 500.40H33.90" stroke="#000" stroke-width="1.1"/>
<text transform="translate(27.50,502.55) scale(1.28,1)" font-size="5.90" text-anchor="end" font-weight="bold" fill="#000" stroke="#000" stroke-width="0.3">20</text>
<path d="M29.90 518.90H33.90" stroke="#000" stroke-width="1.1"/>
<text transform="translate(27.50,521.05) scale(1.28,1)" font-size="5.90" text-anchor="end" font-weight="bold" fill="#000" stroke="#000" stroke-width="0.3">0</text>
<path d="M50.70 518.90V522.40" stroke="#000" stroke-width="1.1"/>
<text transform="translate(50.70,530.10) scale(1.28,1)" font-size="5.90" text-anchor="middle" font-weight="bold" fill="#000" stroke="#000" stroke-width="0.3">1d</text>
<text x="56.60" y="450.30" font-size="9.6" text-anchor="middle" font-weight="bold" fill="#2a2a2a" letter-spacing="-0.7">**</text>
<path d="M89.60 518.90V522.40" stroke="#000" stroke-width="1.1"/>
<text transform="translate(89.60,530.10) scale(1.28,1)" font-size="5.90" text-anchor="middle" font-weight="bold" fill="#000" stroke="#000" stroke-width="0.3">7d</text>
<text x="95.50" y="438.50" font-size="9.6" text-anchor="middle" font-weight="bold" fill="#2a2a2a" letter-spacing="-0.7">**</text>
<path d="M128.20 518.90V522.40" stroke="#000" stroke-width="1.1"/>
<text transform="translate(128.20,530.10) scale(1.28,1)" font-size="5.90" text-anchor="middle" font-weight="bold" fill="#000" stroke="#000" stroke-width="0.3">14d</text>
<text x="134.20" y="451.00" font-size="9.6" text-anchor="middle" font-weight="bold" fill="#2a2a2a" letter-spacing="-0.7">*</text>
<path d="M167.30 518.90V522.40" stroke="#000" stroke-width="1.1"/>
<text transform="translate(167.30,530.10) scale(1.28,1)" font-size="5.90" text-anchor="middle" font-weight="bold" fill="#000" stroke="#000" stroke-width="0.3">28d</text>
<text x="173.35" y="460.80" font-size="9.6" text-anchor="middle" font-weight="bold" fill="#2a2a2a" letter-spacing="-0.7">*</text>
<text transform="translate(15.40,469.55) rotate(-90)" x="0" y="0" font-size="7.4" text-anchor="middle" font-weight="bold" textLength="30.1" lengthAdjust="spacingAndGlyphs" dy="2.00" fill="#000" stroke="#000" stroke-width="0.2">LF (n.u.)</text>
<rect x="213.10" y="508.70" width="11.10" height="9.50" fill="#ff0000" stroke="#200" stroke-width="0.5"/>
<rect x="224.20" y="489.30" width="11.00" height="28.90" fill="#0000c8" stroke="#003" stroke-width="0.5"/>
<rect x="251.80" y="508.40" width="11.00" height="9.80" fill="#ff0000" stroke="#200" stroke-width="0.5"/>
<rect x="262.80" y="453.70" width="11.10" height="64.50" fill="#0000c8" stroke="#003" stroke-width="0.5"/>
<rect x="290.20" y="507.10" width="11.20" height="11.10" fill="#ff0000" stroke="#200" stroke-width="0.5"/>
<rect x="301.40" y="489.80" width="11.10" height="28.40" fill="#0000c8" stroke="#003" stroke-width="0.5"/>
<rect x="329.20" y="504.40" width="11.00" height="13.80" fill="#ff0000" stroke="#200" stroke-width="0.5"/>
<rect x="340.20" y="498.40" width="11.10" height="19.80" fill="#0000c8" stroke="#003" stroke-width="0.5"/>
<path d="M229.70 489.30V479.30M227.80 479.30H231.60" stroke="#383838" stroke-width="0.8" fill="none"/>
<path d="M268.35 453.70V440.40M266.45 440.40H270.25" stroke="#383838" stroke-width="0.8" fill="none"/>
<path d="M295.80 507.10V503.10M293.90 503.10H297.70" stroke="#383838" stroke-width="0.8" fill="none"/>
<path d="M306.95 489.80V480.30M305.05 480.30H308.85" stroke="#383838" stroke-width="0.8" fill="none"/>
<path d="M334.70 504.40V502.50M332.80 502.50H336.60" stroke="#383838" stroke-width="0.8" fill="none"/>
<path d="M345.75 498.40V495.90M343.85 495.90H347.65" stroke="#383838" stroke-width="0.8" fill="none"/>
<polyline points="218.65,508.70 257.30,508.40 295.80,507.10 334.70,504.40" fill="none" stroke="#c0141e" stroke-width="1.0"/>
<polyline points="229.70,489.30 268.35,453.70 306.95,489.80 345.75,498.40" fill="none" stroke="#1a1aff" stroke-width="1.3"/>
<circle cx="218.65" cy="508.70" r="1.9" fill="#000"/>
<rect x="227.70" y="487.50" width="4" height="3.6" fill="#000"/>
<circle cx="257.30" cy="508.40" r="1.9" fill="#000"/>
<rect x="266.35" y="451.90" width="4" height="3.6" fill="#000"/>
<circle cx="295.80" cy="507.10" r="1.9" fill="#000"/>
<rect x="304.95" y="488.00" width="4" height="3.6" fill="#000"/>
<circle cx="334.70" cy="504.40" r="1.9" fill="#000"/>
<rect x="343.75" y="496.60" width="4" height="3.6" fill="#000"/>
<path d="M207.10 423.70V518.20H356.00" stroke="#000" stroke-width="1.1" fill="none"/>
<path d="M203.10 424.10H207.10" stroke="#000" stroke-width="1.1"/>
<text x="200.20" y="426.32" font-size="6.42" text-anchor="end" font-weight="bold" fill="#000" stroke="#000" stroke-width="0.3">6</text>
<path d="M203.10 455.50H207.10" stroke="#000" stroke-width="1.1"/>
<text x="200.20" y="457.72" font-size="6.42" text-anchor="end" font-weight="bold" fill="#000" stroke="#000" stroke-width="0.3">4</text>
<path d="M203.10 486.80H207.10" stroke="#000" stroke-width="1.1"/>
<text x="200.20" y="489.02" font-size="6.42" text-anchor="end" font-weight="bold" fill="#000" stroke="#000" stroke-width="0.3">2</text>
<path d="M203.10 518.20H207.10" stroke="#000" stroke-width="1.1"/>
<text x="200.20" y="520.42" font-size="6.42" text-anchor="end" font-weight="bold" fill="#000" stroke="#000" stroke-width="0.3">0</text>
<path d="M224.20 518.20V521.70" stroke="#000" stroke-width="1.1"/>
<text x="224.20" y="530.27" font-size="6.42" text-anchor="middle" font-weight="bold" fill="#000" stroke="#000" stroke-width="0.3">1d</text>
<text x="230.10" y="479.10" font-size="9.6" text-anchor="middle" font-weight="bold" fill="#2a2a2a" letter-spacing="-0.7">*</text>
<path d="M262.80 518.20V521.70" stroke="#000" stroke-width="1.1"/>
<text x="262.80" y="530.27" font-size="6.42" text-anchor="middle" font-weight="bold" fill="#000" stroke="#000" stroke-width="0.3">7d</text>
<text x="268.75" y="439.50" font-size="9.6" text-anchor="middle" font-weight="bold" fill="#2a2a2a" letter-spacing="-0.7">**</text>
<path d="M301.40 518.20V521.70" stroke="#000" stroke-width="1.1"/>
<text x="301.40" y="530.27" font-size="6.42" text-anchor="middle" font-weight="bold" fill="#000" stroke="#000" stroke-width="0.3">14d</text>
<text x="307.35" y="479.60" font-size="9.6" text-anchor="middle" font-weight="bold" fill="#2a2a2a" letter-spacing="-0.7">*</text>
<path d="M340.20 518.20V521.70" stroke="#000" stroke-width="1.1"/>
<text x="340.20" y="530.27" font-size="6.42" text-anchor="middle" font-weight="bold" fill="#000" stroke="#000" stroke-width="0.3">28d</text>
<text x="346.15" y="494.90" font-size="9.6" text-anchor="middle" font-weight="bold" fill="#2a2a2a" letter-spacing="-0.7">*</text>
<text transform="translate(189.50,470.00) rotate(-90)" x="0" y="0" font-size="8.3" text-anchor="middle" font-weight="bold" textLength="42.6" lengthAdjust="spacingAndGlyphs" dy="2.24" fill="#000" stroke="#000" stroke-width="0.2">LF/HF ratio</text>
<rect x="383.40" y="446.90" width="10.30" height="73.50" fill="#ff0000" stroke="#200" stroke-width="0.5"/>
<rect x="393.70" y="476.80" width="10.30" height="43.60" fill="#0000c8" stroke="#003" stroke-width="0.5"/>
<rect x="419.60" y="447.90" width="10.30" height="72.50" fill="#ff0000" stroke="#200" stroke-width="0.5"/>
<rect x="429.90" y="496.90" width="10.50" height="23.50" fill="#0000c8" stroke="#003" stroke-width="0.5"/>
<rect x="455.70" y="449.40" width="10.60" height="71.00" fill="#ff0000" stroke="#200" stroke-width="0.5"/>
<rect x="466.30" y="476.30" width="10.30" height="44.10" fill="#0000c8" stroke="#003" stroke-width="0.5"/>
<rect x="492.10" y="456.70" width="10.30" height="63.70" fill="#ff0000" stroke="#200" stroke-width="0.5"/>
<rect x="502.40" y="468.00" width="10.30" height="52.40" fill="#0000c8" stroke="#003" stroke-width="0.5"/>
<path d="M398.85 476.80V467.00M396.95 467.00H400.75" stroke="#383838" stroke-width="0.8" fill="none"/>
<path d="M435.15 496.90V493.10M433.25 493.10H437.05" stroke="#383838" stroke-width="0.8" fill="none"/>
<path d="M461.00 449.40V439.10M459.10 439.10H462.90" stroke="#383838" stroke-width="0.8" fill="none"/>
<path d="M471.45 476.30V468.00M469.55 468.00H473.35" stroke="#383838" stroke-width="0.8" fill="none"/>
<path d="M497.25 456.70V451.20M495.35 451.20H499.15" stroke="#383838" stroke-width="0.8" fill="none"/>
<path d="M507.55 468.00V465.00M505.65 465.00H509.45" stroke="#383838" stroke-width="0.8" fill="none"/>
<polyline points="388.55,446.90 424.75,447.90 461.00,449.40 497.25,456.70" fill="none" stroke="#c0141e" stroke-width="1.0"/>
<polyline points="398.85,476.80 435.15,496.90 471.45,476.30 507.55,468.00" fill="none" stroke="#1a1aff" stroke-width="1.1"/>
<circle cx="388.55" cy="446.90" r="1.9" fill="#000"/>
<rect x="396.85" y="475.00" width="4" height="3.6" fill="#000"/>
<circle cx="424.75" cy="447.90" r="1.9" fill="#000"/>
<rect x="433.15" y="495.10" width="4" height="3.6" fill="#000"/>
<circle cx="461.00" cy="449.40" r="1.9" fill="#000"/>
<rect x="469.45" y="474.50" width="4" height="3.6" fill="#000"/>
<circle cx="497.25" cy="456.70" r="1.9" fill="#000"/>
<rect x="505.55" y="466.20" width="4" height="3.6" fill="#000"/>
<path d="M377.90 424.90V520.40H517.70" stroke="#000" stroke-width="1.1" fill="none"/>
<path d="M373.90 425.30H377.90" stroke="#000" stroke-width="1.1"/>
<text transform="translate(372.00,427.35) scale(1.2,1)" font-size="6.20" text-anchor="end" font-weight="bold" fill="#000" stroke="#000" stroke-width="0.3">80</text>
<path d="M373.90 448.70H377.90" stroke="#000" stroke-width="1.1"/>
<text transform="translate(372.00,450.75) scale(1.2,1)" font-size="6.20" text-anchor="end" font-weight="bold" fill="#000" stroke="#000" stroke-width="0.3">60</text>
<path d="M373.90 472.50H377.90" stroke="#000" stroke-width="1.1"/>
<text transform="translate(372.00,474.55) scale(1.2,1)" font-size="6.20" text-anchor="end" font-weight="bold" fill="#000" stroke="#000" stroke-width="0.3">40</text>
<path d="M373.90 496.60H377.90" stroke="#000" stroke-width="1.1"/>
<text transform="translate(372.00,498.65) scale(1.2,1)" font-size="6.20" text-anchor="end" font-weight="bold" fill="#000" stroke="#000" stroke-width="0.3">20</text>
<path d="M373.90 520.40H377.90" stroke="#000" stroke-width="1.1"/>
<text transform="translate(372.00,522.45) scale(1.2,1)" font-size="6.20" text-anchor="end" font-weight="bold" fill="#000" stroke="#000" stroke-width="0.3">0</text>
<path d="M393.70 520.40V523.90" stroke="#000" stroke-width="1.1"/>
<text transform="translate(393.70,532.00) scale(1.2,1)" font-size="6.20" text-anchor="middle" font-weight="bold" fill="#000" stroke="#000" stroke-width="0.3">1d</text>
<text x="399.25" y="465.30" font-size="9.6" text-anchor="middle" font-weight="bold" fill="#2a2a2a" letter-spacing="-0.7">**</text>
<path d="M429.90 520.40V523.90" stroke="#000" stroke-width="1.1"/>
<text transform="translate(429.90,532.00) scale(1.2,1)" font-size="6.20" text-anchor="middle" font-weight="bold" fill="#000" stroke="#000" stroke-width="0.3">7d</text>
<text x="435.55" y="492.20" font-size="9.6" text-anchor="middle" font-weight="bold" fill="#2a2a2a" letter-spacing="-0.7">**</text>
<path d="M466.30 520.40V523.90" stroke="#000" stroke-width="1.1"/>
<text transform="translate(466.30,532.00) scale(1.2,1)" font-size="6.20" text-anchor="middle" font-weight="bold" fill="#000" stroke="#000" stroke-width="0.3">14d</text>
<text x="471.85" y="466.60" font-size="9.6" text-anchor="middle" font-weight="bold" fill="#2a2a2a" letter-spacing="-0.7">*</text>
<path d="M502.40 520.40V523.90" stroke="#000" stroke-width="1.1"/>
<text transform="translate(502.40,532.00) scale(1.2,1)" font-size="6.20" text-anchor="middle" font-weight="bold" fill="#000" stroke="#000" stroke-width="0.3">28d</text>
<text x="507.95" y="463.30" font-size="9.6" text-anchor="middle" font-weight="bold" fill="#2a2a2a" letter-spacing="-0.7">*</text>
<text transform="translate(360.50,470.15) rotate(-90)" x="0" y="0" font-size="7.0" text-anchor="middle" font-weight="bold" textLength="31.3" lengthAdjust="spacingAndGlyphs" dy="1.89" fill="#000" stroke="#000" stroke-width="0.2">HF (n.u.)</text>
<text transform="translate(12.9,20.1) scale(1.1,1)" font-size="22" font-weight="bold">A</text>
<text transform="translate(10.4,291.9) scale(1.0,1)" font-size="23" font-weight="bold">B</text>
<text x="62.48" y="20.35" font-weight="bold" font-size="19.5">a</text>
<text transform="translate(72.99,20.00) scale(0.763,1)" font-weight="bold" font-size="12.49" stroke="#000" stroke-width="0.45">1</text>
<text x="277.85" y="18.95" font-weight="bold" font-size="19.5">b</text>
<text transform="translate(288.22,18.60) scale(0.829,1)" font-weight="bold" font-size="12.49" stroke="#000" stroke-width="0.45">1</text>
<text x="13.92" y="144.75" font-weight="bold" font-size="20">c</text>
<text transform="translate(22.13,144.60) scale(0.927,1)" font-weight="bold" font-size="13.82" stroke="#000" stroke-width="0.45">1</text>
<text x="190.70" y="144.75" font-weight="bold" font-size="19.5">d</text>
<text transform="translate(201.66,144.50) scale(0.845,1)" font-weight="bold" font-size="13.23" stroke="#000" stroke-width="0.45">1</text>
<text x="358.54" y="144.75" font-weight="bold" font-size="19.5">e</text>
<text transform="translate(367.54,144.50) scale(0.762,1)" font-weight="bold" font-size="13.23" stroke="#000" stroke-width="0.45">1</text>
<text x="68.09" y="293.35" font-weight="bold" font-size="19">a</text>
<text transform="translate(76.77,292.90) scale(1.160,1)" font-weight="bold" font-size="13.95" stroke="#000" stroke-width="0.25">2</text>
<text x="290.05" y="297.05" font-weight="bold" font-size="19.5">b</text>
<text transform="translate(300.01,296.80) scale(1.102,1)" font-weight="bold" font-size="13.81" stroke="#000" stroke-width="0.25">2</text>
<text x="12.42" y="417.45" font-weight="bold" font-size="20">c</text>
<text transform="translate(20.80,417.40) scale(1.097,1)" font-weight="bold" font-size="14.09" stroke="#000" stroke-width="0.25">2</text>
<text x="184.40" y="420.65" font-weight="bold" font-size="19.5">d</text>
<text transform="translate(195.41,418.90) scale(1.048,1)" font-weight="bold" font-size="14.51" stroke="#000" stroke-width="0.25">2</text>
<text x="357.72" y="418.35" font-weight="bold" font-size="20">e</text>
<text transform="translate(366.56,418.60) scale(1.058,1)" font-weight="bold" font-size="13.25" stroke="#000" stroke-width="0.25">2</text>
<text x="216.1" y="257.2" font-size="11.5" font-weight="bold" textLength="110.4" lengthAdjust="spacingAndGlyphs" stroke="#000" stroke-width="0.3">Time after exposure</text>
<text x="216.1" y="541.9" font-size="11.5" font-weight="bold" textLength="110.4" lengthAdjust="spacingAndGlyphs" stroke="#000" stroke-width="0.3">Time after exposure</text>
<path d="M476.0 26.45H489.0" stroke="#b8101c" stroke-width="1.2"/>
<circle cx="482.4" cy="26.45" r="2.5" fill="#000"/>
<path d="M476.0 39.95H489.0" stroke="#3030ff" stroke-width="1.2"/>
<rect x="479.9" y="37.35" width="5.1" height="5.2" fill="#000"/>
<text x="495.70" y="29.75" font-size="10" text-anchor="start" font-weight="normal" fill="#000" >C</text>
<text x="495.70" y="43.25" font-size="10" text-anchor="start" font-weight="normal" fill="#000" >R</text>
<path d="M476.0 300.3H489.0" stroke="#b8101c" stroke-width="1.2"/>
<circle cx="482.4" cy="300.3" r="2.5" fill="#000"/>
<path d="M476.0 313.7H489.0" stroke="#3030ff" stroke-width="1.2"/>
<rect x="479.9" y="311.09999999999997" width="5.1" height="5.2" fill="#000"/>
<text x="495.70" y="303.20" font-size="9.3" text-anchor="start" font-weight="normal" fill="#000" >C</text>
<text x="495.70" y="316.60" font-size="9.3" text-anchor="start" font-weight="normal" fill="#000" >R</text>
</svg>
</body></html>
